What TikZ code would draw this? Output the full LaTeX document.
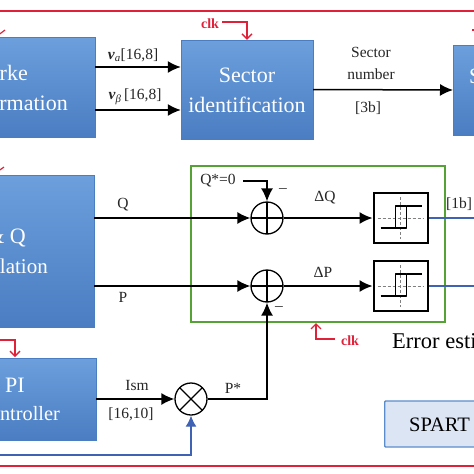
\documentclass[tikz,border=0pt]{standalone}
\usepackage{fontspec}
\setmainfont{Liberation Serif}
\usetikzlibrary{arrows.meta,calc}
\definecolor{blockblue}{HTML}{4A7DC2}
\definecolor{blocktop}{HTML}{6C9FDC}
\definecolor{clkred}{HTML}{E0213A}
\definecolor{sigblue}{HTML}{3F62B5}
\definecolor{errgreen}{HTML}{55A335}
\definecolor{boardfill}{HTML}{DCE5F4}
\definecolor{boardline}{HTML}{5B8CCB}
\tikzset{
  block/.style={rectangle,top color=blocktop,bottom color=blockblue,draw=blockblue,thin,inner sep=0pt},
  blocktxt/.style={text=white,font=\fontsize{22}{26}\selectfont,inner sep=0pt},
  lbl/.style={font=\fontsize{15.5}{22}\selectfont,text=black!85,inner sep=0pt,align=center},
  sig/.style={line width=1.5pt,-{Latex[length=13pt,width=12pt]}},
  clk/.style={clkred,line width=1.4pt,-{Straight Barb[length=5pt,width=10pt]}},
  clklbl/.style={text=clkred,font=\fontsize{14}{16}\bfseries\selectfont,inner sep=0pt},
  sumnode/.style={circle,draw,line width=1.3pt,minimum size=32pt,inner sep=0pt,path picture={
    \draw[line width=1.3pt] (path picture bounding box.north) -- (path picture bounding box.south) (path picture bounding box.west) -- (path picture bounding box.east);}},
  mulnode/.style={circle,draw,line width=1.3pt,minimum size=32pt,inner sep=0pt,path picture={
    \draw[line width=1.3pt] (path picture bounding box.north west) -- (path picture bounding box.south east) (path picture bounding box.north east) -- (path picture bounding box.south west);}},
  hyst/.style={rectangle,draw,fill=white,line width=2pt,minimum width=54pt,minimum height=50pt,inner sep=0pt}
}
\begin{document}
\begin{tikzpicture}[x=1pt,y=-1pt]
    \useasboundingbox (0,0) rectangle (474,474);
    \clip (0,0) rectangle (474,474);
    % blocks
    \node[block,minimum width=185pt,minimum height=100pt] (clarke) at (2.5,87) {};
    \node[block,minimum width=132pt,minimum height=99pt] (sector) at (247,89.5) {};
    \node[block,minimum width=132pt,minimum height=90pt,anchor=west] (switch) at (453,90) {};
    \node[block,minimum width=190pt,minimum height=152pt] (pq) at (-1,251) {};
    \node[block,minimum width=160pt,minimum height=82pt] (pictrl) at (16,399) {};
    \node[blocktxt,anchor=east] (clarkea) at (28,73) {rke};
    \node[blocktxt,anchor=east] (clarkeb) at (68,103) {rmation};
    \node[blocktxt] (sectora) at (247,75) {Sector};
    \node[blocktxt] (sectorb) at (247,105) {identification};
    \node[blocktxt,anchor=west] (switcha) at (469,76) {S};
    \node[blocktxt,anchor=east] (pqa) at (26,238) {\& Q};
    \node[blocktxt,anchor=east,font=\fontsize{21}{26}\selectfont] (pqb) at (48,266) {lation};
    \node[blocktxt] (pia) at (15,385) {PI};
    \node[blocktxt,anchor=east,font=\fontsize{20.3}{26}\selectfont] (pib) at (60,414) {ntroller};
    \node[rectangle,draw=boardline,fill=boardfill,line width=1.3pt,rounded corners=1pt,minimum width=130pt,minimum height=46pt,anchor=west,inner sep=0pt] (board) at (384,424) {};
    \node[anchor=west,inner sep=0pt,font=\fontsize{20.5}{24}\selectfont] (boardname) at (409,425) {SPART};
    % error block
    \node[rectangle,draw=errgreen,line width=1.5pt,minimum width=254pt,minimum height=156pt,inner sep=0pt] (err) at (318,244) {};
    \node[anchor=west,inner sep=0pt,font=\fontsize{22.5}{26}\selectfont] (errname) at (392,341) {Error esti};
    \node[sumnode] (sumq) at (267,218) {};
    \node[sumnode] (sump) at (267,286) {};
    \node[mulnode] (mul) at (191,399) {};
    \node[hyst] (hystq) at (400.5,218) {};
    \node[hyst] (hystp) at (400.5,286) {};
    \foreach \h in {hystq,hystp} {
      \draw[gray,thin,densely dashed] ($(\h.west)+(5,0)$) -- ($(\h.east)+(-5,0)$) ($(\h.north)+(0,5)$) -- ($(\h.south)+(0,-5)$);
      \draw[line width=1.3pt,line join=round] ($(\h.center)+(-20,10)$) -- ($(\h.center)+(6,10)$) -- ($(\h.center)+(6,-12)$) -- ($(\h.center)+(-5,-12)$) -- ($(\h.center)+(-5,10)$) ($(\h.center)+(6,-12)$) -- ($(\h.center)+(21,-12)$);
    }
    % signals
    \draw[sig] ([yshift=20pt]clarke.east) -- ([yshift=22.5pt]sector.west);
    \draw[sig] ([yshift=-23pt]clarke.east) -- ([yshift=-20.5pt]sector.west);
    \draw[sig] (sector.east) -- (switch.west);
    \draw[sig] ([yshift=33pt]pq.east) -- (sumq.west);
    \draw[sig] ([yshift=-35pt]pq.east) -- (sump.west);
    \draw[sig] (pictrl.east) -- (mul.west);
    \draw[sig] (sumq.east) -- (hystq.west);
    \draw[sig] (sump.east) -- (hystp.west);
    \coordinate (qstart) at (243,181);
    \draw[sig] (qstart) -| (sumq.north);
    \draw[sig] (mul.east) -| (sump.south);
    \coordinate (qout) at (474,218);
    \coordinate (pout) at (474,286);
    \draw[sigblue,line width=1.4pt] (hystq.east) -- (qout);
    \draw[sigblue,line width=1.4pt] (hystp.east) -- (pout);
    \coordinate (isbstart) at (0,455);
    \draw[sigblue,line width=1.3pt,-{Latex[length=11pt,width=11pt]}] (isbstart) -| (mul.south);
    % clock lines
    \coordinate (rt0) at (0,11);
    \coordinate (rt1) at (474,11);
    \coordinate (rb0) at (0,466);
    \coordinate (rb1) at (474,466);
    \draw[clkred,line width=1.4pt] (rt0) -- (rt1);
    \draw[clkred,line width=1.4pt] (rb0) -- (rb1);
    \node[clklbl] (clksector) at (210,24) {clk};
    \coordinate (ca) at (222,22);
    \draw[clk] (ca) -| (sector.north);
    \coordinate (cb) at (0,340);
    \coordinate (cc) at (15,357);
    \draw[clk] (cb) -| (cc);
    \node[clklbl] (clkerr) at (350,341) {clk};
    \coordinate (cd) at (335,339);
    \coordinate (ce) at (316,323);
    \draw[clk] (cd) -| (ce);
    \coordinate (cf) at (-3,36);
    \coordinate (cg) at (5,30);
    \draw[clkred,line width=1.2pt] (cf) -- (cg);
    \coordinate (ch) at (-3,172);
    \coordinate (ci) at (4,167);
    \draw[clkred,line width=1.2pt] (ch) -- (ci);
    \coordinate (cj) at (472,30);
    \coordinate (ck) at (474,30);
    \draw[clkred,line width=1.2pt] (cj) -- (ck);
    % labels
    \node[lbl] (va) at (133,55) {\textbf{\textit{v}}\textsubscript{\textit{a}}[16,8]};
    \node[lbl] (vb) at (135,97) {\textbf{\textit{v}}\textsubscript{\textit{β}}\,[16,8]};
    \node[lbl] (secnum) at (371,63) {Sector\\number};
    \node[lbl] (secbits) at (368,108) {[3b]};
    \node[lbl] (qlbl) at (123,205) {Q};
    \node[lbl] (plbl) at (123,297) {P};
    \node[lbl] (qref) at (218,181) {Q*=0};
    \node[lbl] (dq) at (325,198) {ΔQ};
    \node[lbl] (dp) at (323,272) {ΔP};
    \node[lbl] (mq) at (283,190) {–};
    \node[lbl] (mp) at (279,308) {–};
    \node[lbl] (bit) at (459,204) {[1b]};
    \node[lbl] (ism) at (137,385) {Ism};
    \node[lbl] (ismbits) at (131,414) {[16,10]};
    \node[lbl] (pref) at (233,388) {P*};
\end{tikzpicture}
\end{document}
